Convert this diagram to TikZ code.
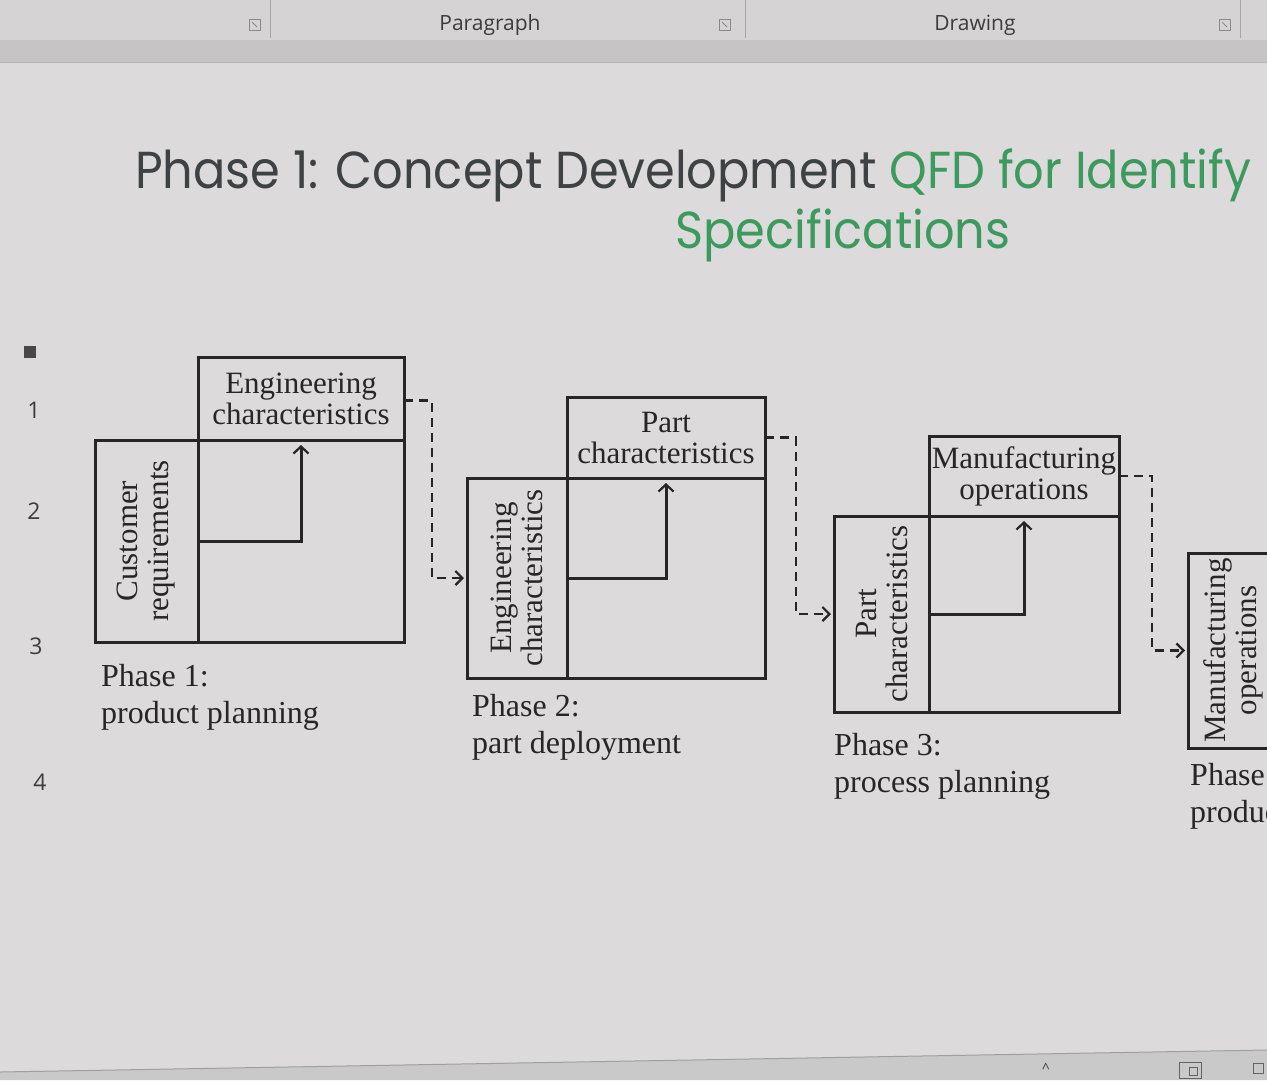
\documentclass[tikz,border=0pt]{standalone}
\usepackage{fontspec}
\setmainfont{Liberation Serif}
\newfontfamily\uifont{Open Sans}
\newfontfamily\titlefont{Poppins}
\usetikzlibrary{arrows.meta,calc}
\definecolor{pagebg}{HTML}{DCDADA}
\definecolor{ribbonbg}{HTML}{D5D3D3}
\definecolor{bandbg}{HTML}{C6C4C4}
\definecolor{ink}{HTML}{262626}
\definecolor{titlegray}{HTML}{3E4244}
\definecolor{titlegreen}{HTML}{3C9A5E}
\definecolor{uitext}{HTML}{3C3C3C}
\tikzset{
  box/.style={draw=ink, line width=3pt, inner sep=0pt, outer sep=0pt},
  boxtext/.style={font=\fontsize{31}{31}\selectfont, text=ink, align=center, inner sep=0pt},
  flow/.style={draw=ink, line width=3pt, shorten >=5pt, -{Straight Barb[length=7pt,width=15pt,line width=2.2pt]}},
  link/.style={draw=ink, line width=2.5pt, dash pattern=on 9pt off 6pt, shorten >=3pt, -{Straight Barb[length=7pt,width=14pt,line width=2.2pt]}},
  phaselabel/.style={font=\fontsize{32}{37}\selectfont, text=ink, align=left, anchor=north west, inner sep=0pt},
  ruler/.style={font=\uifont\fontsize{23}{23}\selectfont, text=uitext},
  ribbonlabel/.style={font=\uifont\fontsize{21}{21}\selectfont, text=uitext},
  launcher/.style={draw=uitext!60, line width=0.8pt}
}
\begin{document}
\begin{tikzpicture}[x=1pt,y=-1pt]
\clip (0,0) rectangle (1267,1080);
\fill[pagebg] (0,0) rectangle (1267,1080);
% ribbon
\fill[ribbonbg] (0,0) rectangle (1267,40);
\fill[bandbg] (0,40) rectangle (1267,62);
\draw[gray!60, line width=1pt] (0,62) -- (1267,62);
\foreach \sx in {270,745,1240}{ \draw[gray!70, line width=1pt] (\sx,0) -- (\sx,38); }
\foreach \lx/\nm in {255/la,725/lb,1225/lc}{
  \node[launcher, minimum width=11, minimum height=11] (\nm) at (\lx,25) {};
  \draw[launcher] (\nm.north west) ++(3,3) -- ++(5,5);
}
\node[ribbonlabel] (para) at (490,25) {Paragraph};
\node[ribbonlabel] (draw) at (975,25) {Drawing};
% vertical ruler
\fill[ink!85] (24,346) rectangle (36,358);
\node[ruler] (r1) at (34,410) {1};
\node[ruler] (r2) at (34,511) {2};
\node[ruler] (r3) at (36,646) {3};
\node[ruler] (r4) at (40,782) {4};
% title
\node[anchor=base west, inner sep=0pt, font=\titlefont\fontsize{52}{52}\selectfont] (title1) at (135,188)
  {\scalebox{0.92}[1]{\textcolor{titlegray}{Phase 1: Concept Development} \textcolor{titlegreen}{QFD for Identify}}};
\node[anchor=base, inner sep=0pt, font=\titlefont\fontsize{52}{52}\selectfont, text=titlegreen] (title2) at (843,248) {\scalebox{0.92}[1]{Specifications}};
% ---------------- Phase 1
\node[box, minimum width=206, minimum height=83, anchor=north west] (h1) at (198,357) {};
\node[boxtext] (h1t) at (h1.center) {Engineering\\characteristics};
\node[box, minimum width=206, minimum height=202, anchor=north west] (m1) at (198,440) {};
\node[box, rotate=90, minimum width=202, minimum height=103, anchor=south west] (l1) at (198,642) {};
\node[boxtext, rotate=90] (l1t) at (l1.center) {Customer\\requirements};
\draw[flow] (m1.west) -| (m1.north);
\node[phaselabel] (p1) at (101,664) {Phase 1:\\product planning};
% ---------------- Phase 2
\node[box, minimum width=198, minimum height=81, anchor=north west] (h2) at (567,397) {};
\node[boxtext] (h2t) at (h2.center) {Part\\characteristics};
\node[box, minimum width=198, minimum height=200, anchor=north west] (m2) at (567,478) {};
\node[box, rotate=90, minimum width=200, minimum height=100, anchor=south west] (l2) at (567,678) {};
\node[boxtext, rotate=90] (l2t) at (l2.center) {Engineering\\characteristics};
\draw[flow] (m2.west) -| (m2.north);
\node[phaselabel] (p2) at (472,694) {Phase 2:\\part deployment};
% ---------------- Phase 3
\node[box, minimum width=190, minimum height=80, anchor=north west] (h3) at (929,436) {};
\node[boxtext] (h3t) at (h3.center) {Manufacturing\\operations};
\node[box, minimum width=190, minimum height=196, anchor=north west] (m3) at (929,516) {};
\node[box, rotate=90, minimum width=196, minimum height=95, anchor=south west] (l3) at (929,712) {};
\node[boxtext, rotate=90] (l3t) at (l3.center) {Part\\characteristics};
\draw[flow] (m3.west) -| (m3.north);
\node[phaselabel] (p3) at (834,733) {Phase 3:\\process planning};
% ---------------- Phase 4 (cut off at the right edge, as in the screenshot)
\node[box, rotate=90, minimum width=195, minimum height=90, anchor=south west] (l4) at (1278,748) {};
\node[boxtext, rotate=90] (l4t) at (l4.center) {Manufacturing\\operations};
\node[phaselabel] (p4) at (1190,763) {Phase 4:\\production planning};
% ---------------- dashed links
\draw[link] (h1.east) ++(0,2) -- ++(28,0) |- (l2.north);
\draw[link] (h2.east) -- ++(31,0) |- (l3.north);
\draw[link] (h3.east) -- ++(33,0) |- (l4.north);
% bottom status bar
\fill[pagebg!92!black] (0,1072) -- (1267,1050) -- (1267,1080) -- (0,1080) -- cycle;
\draw[gray!75, line width=1pt] (0,1072) -- (1267,1050);
\node[font=\uifont\fontsize{14}{14}\selectfont, text=uitext] (caret) at (1046,1068) {\textasciicircum};
\node[draw=uitext!80, line width=1pt, minimum width=22, minimum height=16, inner sep=0pt] (ico1) at (1190,1070) {};
\node[draw=uitext!80, line width=1pt, minimum width=8, minimum height=8, inner sep=0pt] (ico1in) at (1193,1071) {};
\node[draw=uitext!80, line width=1pt, minimum width=10, minimum height=10, inner sep=0pt] (ico2) at (1258,1068) {};
\end{tikzpicture}
\end{document}
